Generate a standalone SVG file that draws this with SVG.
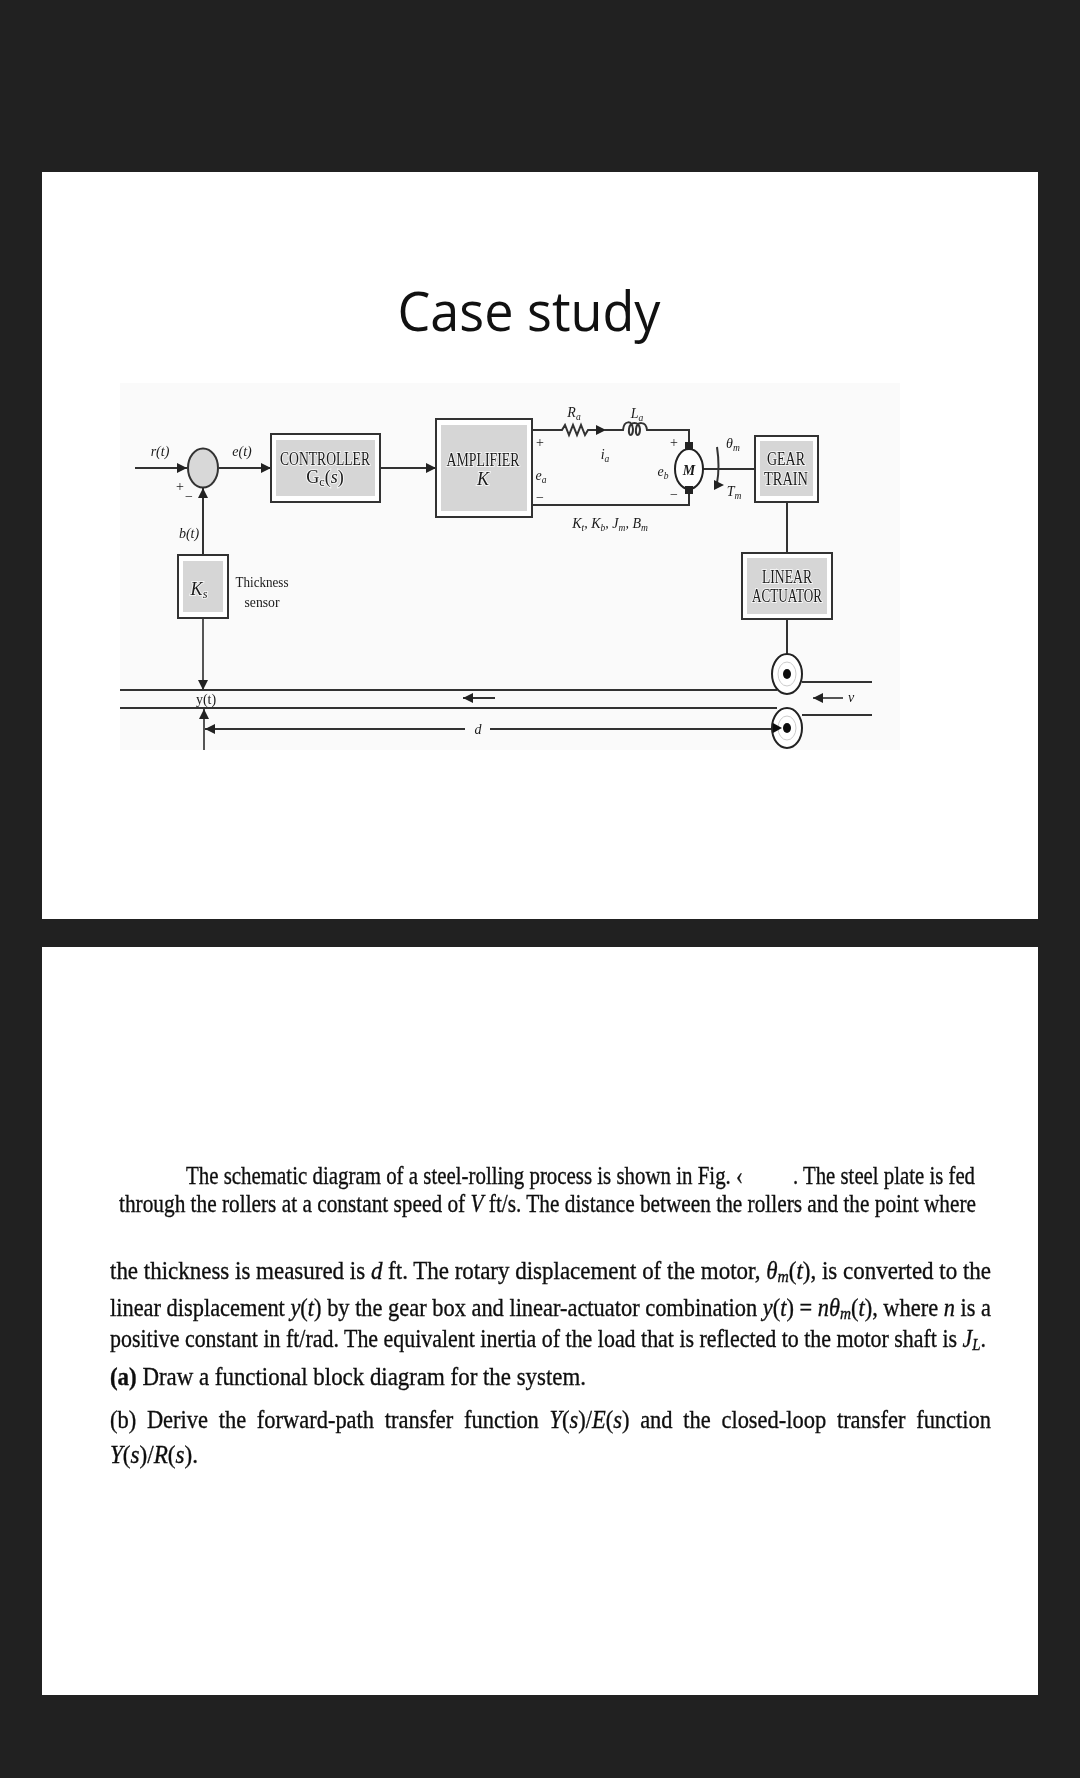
<svg xmlns="http://www.w3.org/2000/svg" width="1080" height="1778" viewBox="0 0 1080 1778">
<style>
.slide{fill:#fff}
.t{font-family:"Liberation Serif","Times New Roman",serif;fill:#1a1a1a}
.i{font-style:italic}
.box{fill:#fff;stroke:#333;stroke-width:2}
.in{fill:#d6d6d6}
.lab{font-size:14px;text-anchor:middle}
.blk{font-size:18px;text-anchor:middle;paint-order:stroke;stroke:#f4f4f4;stroke-width:2px}
.p{font-size:22px;fill:#111;stroke:#111;stroke-width:.3px}
.w{fill:none;stroke:#333;stroke-width:2}
.g{fill:none;stroke:#555;stroke-width:2}
.s{font-size:0.68em}
</style>
<defs>
<marker id="a" markerUnits="userSpaceOnUse" markerWidth="12" markerHeight="12" refX="10" refY="5" orient="auto"><path d="M0 0L10 5L0 10Z" fill="#222"/></marker>
<filter id="b" x="-2%" y="-2%" width="104%" height="104%"><feGaussianBlur stdDeviation="0.5"/></filter>
</defs>
<rect width="1080" height="1778" fill="#212121"/>
<rect class="slide" x="42" y="172" width="996" height="747"/>
<rect class="slide" x="42" y="947" width="996" height="748"/>
<text id="title" x="529" y="331" text-anchor="middle" font-family="'Open Sans','Noto Sans',sans-serif" font-size="54" textLength="263" lengthAdjust="spacingAndGlyphs" fill="#111">Case study</text>
<rect x="120" y="383" width="780" height="367" fill="#fafafa"/>
<g filter="url(#b)">
<g id="connectors">
<path class="w" d="M135 468H187" marker-end="url(#a)"/>
<path class="w" d="M219 468H271" marker-end="url(#a)"/>
<path class="w" d="M380 468H436" marker-end="url(#a)"/>
<path class="w" d="M203 555V488" marker-end="url(#a)"/>
<path class="g" d="M203 618V690" marker-end="url(#a)"/>
<path class="w" d="M120 690H777"/>
<path class="w" d="M120 708H777"/>
<path class="w" d="M802 682H872"/>
<path class="w" d="M802 715H872"/>
<path class="g" d="M204 750V709" marker-end="url(#a)"/>
<path class="w" d="M465 729H205" marker-end="url(#a)"/>
<path class="w" d="M490 729H772"/>
<path class="w" d="M495 698H463" marker-end="url(#a)"/>
<path class="g" d="M843 698H813" marker-end="url(#a)"/>
<path class="w" d="M532 430H562l3-5 4 10 4-10 4 10 4-10 4 10 3-5H606" marker-end="url(#a)"/>
<path class="w" d="M604 430H623c1-10 9-10 10-1 0 8-5 8-4 0 1-8 10-8 11 0 0 8-5 8-4 0 1-8 10-8 11 1 1 0 2 0 4 0H689V442"/>
<path class="w" d="M532 505H689V494"/>
<path class="w" d="M703 469H755"/>
<path class="w" d="M717 447Q720 467 717 483"/>
<path d="M714 480L724 485L714 490Z" fill="#222"/>
<path class="w" d="M787 502V553"/>
<path class="w" d="M787 619V654"/>
</g>
<g id="sum"><ellipse cx="203" cy="468" rx="15" ry="19.500" fill="#d8d8d8" stroke="#333" stroke-width="2"/></g>
<g id="controller"><rect class="box" x="271" y="434" width="109" height="68"/><rect class="in" x="276" y="440" width="99" height="56"/><text class="t blk" x="325" y="465" textLength="90" lengthAdjust="spacingAndGlyphs">CONTROLLER</text><text class="t blk" x="325" y="483">G<tspan class="s" dy="3">c</tspan><tspan dy="-3">(</tspan><tspan class="i">s</tspan>)</text></g>
<g id="amplifier"><rect class="box" x="436" y="419" width="96" height="98"/><rect class="in" x="441" y="425" width="86" height="86"/><text class="t blk" x="483" y="466" textLength="73" lengthAdjust="spacingAndGlyphs">AMPLIFIER</text><text class="t blk i" x="483" y="485">K</text></g>
<g id="sensor"><rect class="box" x="178" y="555" width="50" height="63"/><rect class="in" x="183" y="561" width="40" height="51"/><text class="t blk i" x="199" y="595">K<tspan class="s" dy="3">s</tspan></text></g>
<g id="motor"><ellipse cx="689" cy="469" rx="14" ry="20" fill="#fff" stroke="#222" stroke-width="2"/><rect x="685" y="442" width="8" height="8" fill="#222"/><rect x="685" y="486" width="8" height="8" fill="#222"/><text class="t lab i" x="689" y="475" font-weight="bold">M</text></g>
<g id="gear"><rect class="box" x="755" y="436" width="63" height="66"/><rect class="in" x="760" y="441" width="53" height="55"/><text class="t blk" x="786" y="465" textLength="38" lengthAdjust="spacingAndGlyphs">GEAR</text><text class="t blk" x="786" y="485" textLength="44" lengthAdjust="spacingAndGlyphs">TRAIN</text></g>
<g id="actuator"><rect class="box" x="742" y="553" width="90" height="66"/><rect class="in" x="747" y="558" width="80" height="56"/><text class="t blk" x="787" y="583" textLength="50" lengthAdjust="spacingAndGlyphs">LINEAR</text><text class="t blk" x="787" y="602" textLength="70" lengthAdjust="spacingAndGlyphs">ACTUATOR</text></g>
<g id="roller1"><ellipse cx="787" cy="674" rx="15" ry="20" fill="#fff" stroke="#222" stroke-width="2"/><ellipse cx="787" cy="674" rx="9" ry="12" fill="none" stroke="#ccc"/><ellipse cx="787" cy="674" rx="4" ry="5" fill="#111"/></g>
<g id="roller2"><ellipse cx="787" cy="728" rx="15" ry="20" fill="#fff" stroke="#222" stroke-width="2"/><ellipse cx="787" cy="728" rx="9" ry="12" fill="none" stroke="#ccc"/><ellipse cx="787" cy="728" rx="4" ry="5" fill="#111"/><path d="M773 723L782 728L773 733Z" fill="#111"/></g>
<g id="labels">
<text class="t lab i" x="160" y="456" font-size="13">r(t)</text>
<text class="t lab i" x="242" y="456" font-size="13">e(t)</text>
<text class="t lab" x="180" y="491">+</text>
<text class="t lab" x="189" y="501">−</text>
<text class="t lab i" x="189" y="538">b(t)</text>
<text class="t lab" x="262" y="587" textLength="53" lengthAdjust="spacingAndGlyphs">Thickness</text>
<text class="t lab" x="262" y="607" textLength="35" lengthAdjust="spacingAndGlyphs">sensor</text>
<text class="t lab" x="206" y="704">y(t)</text>
<text class="t lab i" x="478" y="734" font-size="17">d</text>
<text class="t lab i" x="574" y="417">R<tspan class="s" dy="3">a</tspan></text>
<text class="t lab i" x="637" y="418">L<tspan class="s" dy="3">a</tspan></text>
<text class="t lab i" x="605" y="459">i<tspan class="s" dy="3">a</tspan></text>
<text class="t lab" x="540" y="447">+</text>
<text class="t lab i" x="541" y="480">e<tspan class="s" dy="3">a</tspan></text>
<text class="t lab" x="540" y="502">−</text>
<text class="t lab" x="674" y="447">+</text>
<text class="t lab i" x="663" y="476">e<tspan class="s" dy="3">b</tspan></text>
<text class="t lab" x="674" y="499">−</text>
<text class="t lab i" x="733" y="448" font-size="15">θ<tspan class="s" dy="3">m</tspan></text>
<text class="t lab i" x="734" y="496" font-size="15">T<tspan class="s" dy="3">m</tspan></text>
<text class="t lab i" x="610" y="528">K<tspan class="s" dy="3">t</tspan><tspan dy="-3">, K</tspan><tspan class="s" dy="3">b</tspan><tspan dy="-3">, J</tspan><tspan class="s" dy="3">m</tspan><tspan dy="-3">, B</tspan><tspan class="s" dy="3">m</tspan></text>
<text class="t lab i" x="851" y="702">v</text>
</g>
</g>
<g id="body" filter="url(#b)">
<text class="t p" transform="translate(186 1184) scale(1 1.15)" textLength="557" lengthAdjust="spacingAndGlyphs">The schematic diagram of a steel-rolling process is shown in Fig. ‹</text>
<text class="t p" transform="translate(793 1184) scale(1 1.15)" textLength="182" lengthAdjust="spacingAndGlyphs">. The steel plate is fed</text>
<text class="t p" transform="translate(119 1212) scale(1 1.15)" textLength="857" lengthAdjust="spacingAndGlyphs">through the rollers at a constant speed of <tspan class="i">V</tspan> ft/s. The distance between the rollers and the point where</text>
<text class="t p" transform="translate(110 1279) scale(1 1.15)" textLength="881" lengthAdjust="spacingAndGlyphs">the thickness is measured is <tspan class="i">d</tspan> ft. The rotary displacement of the motor, <tspan class="i">θ</tspan><tspan class="s i" dy="3">m</tspan><tspan dy="-3">(</tspan><tspan class="i">t</tspan>), is converted to the</text>
<text class="t p" transform="translate(110 1316) scale(1 1.15)" textLength="881" lengthAdjust="spacingAndGlyphs">linear displacement <tspan class="i">y</tspan>(<tspan class="i">t</tspan>) by the gear box and linear-actuator combination <tspan class="i">y</tspan>(<tspan class="i">t</tspan>) = <tspan class="i">nθ</tspan><tspan class="s i" dy="3">m</tspan><tspan dy="-3">(</tspan><tspan class="i">t</tspan>), where <tspan class="i">n</tspan> is a</text>
<text class="t p" transform="translate(110 1347) scale(1 1.15)" textLength="876" lengthAdjust="spacingAndGlyphs">positive constant in ft/rad. The equivalent inertia of the load that is reflected to the motor shaft is <tspan class="i">J</tspan><tspan class="s i" dy="3">L</tspan><tspan dy="-3">.</tspan></text>
<text class="t p" transform="translate(110 1385) scale(1 1.15)" textLength="476" lengthAdjust="spacingAndGlyphs"><tspan font-weight="bold">(a)</tspan> Draw a functional block diagram for the system.</text>
<text class="t p" transform="translate(110 1428) scale(1 1.15)" textLength="881" lengthAdjust="spacingAndGlyphs" word-spacing="5">(b) Derive the forward-path transfer function <tspan class="i">Y</tspan>(<tspan class="i">s</tspan>)/<tspan class="i">E</tspan>(<tspan class="i">s</tspan>) and the closed-loop transfer function</text>
<text class="t p" transform="translate(110 1463) scale(1 1.15)" textLength="88" lengthAdjust="spacingAndGlyphs"><tspan class="i">Y</tspan>(<tspan class="i">s</tspan>)/<tspan class="i">R</tspan>(<tspan class="i">s</tspan>).</text>
</g>
</svg>
